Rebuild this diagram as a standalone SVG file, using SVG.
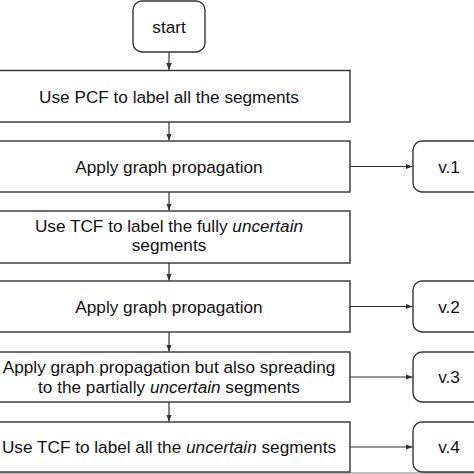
<svg xmlns="http://www.w3.org/2000/svg" width="474" height="474" viewBox="0 0 474 474">
<defs>
<marker id="ah" viewBox="0 0 10 10" refX="10" refY="5" markerWidth="7" markerHeight="7" markerUnits="userSpaceOnUse" orient="auto">
<path d="M0,1 L10,5 L0,9 Z" fill="#333"/>
</marker>
</defs>
<style>
.box{fill:#fff;stroke:#333;stroke-width:1.4}
.t{font-family:"Liberation Sans",Arial,sans-serif;font-size:17.2px;fill:#111;text-anchor:middle}
.c{stroke:#333;stroke-width:1.2;fill:none;marker-end:url(#ah)}
</style>
<rect x="0" y="0" width="474" height="474" fill="#fff"/>
<rect x="0" y="472" width="474" height="2" fill="#bdbdbd"/>
<g id="start">
<rect class="box" x="133" y="1" width="72" height="51" rx="9"/>
<text class="t" x="169" y="33">start</text>
</g>
<g id="n1">
<rect class="box" x="-12" y="70.5" width="362" height="51.5"/>
<text class="t" x="169" y="102.5">Use PCF to label all the segments</text>
</g>
<g id="n2">
<rect class="box" x="-12" y="141" width="362" height="51"/>
<text class="t" x="169" y="173">Apply graph propagation</text>
</g>
<g id="n3">
<rect class="box" x="-12" y="211" width="362" height="52"/>
<text class="t" x="169" y="231.5">Use TCF to label the fully <tspan font-style="italic">uncertain</tspan></text>
<text class="t" x="169" y="251">segments</text>
</g>
<g id="n4">
<rect class="box" x="-12" y="281" width="362" height="51"/>
<text class="t" x="169" y="313">Apply graph propagation</text>
</g>
<g id="n5">
<rect class="box" x="-12" y="352" width="362" height="50"/>
<text class="t" x="169" y="373">Apply graph propagation but also spreading</text>
<text class="t" x="169" y="393">to the partially <tspan font-style="italic">uncertain</tspan> segments</text>
</g>
<g id="n6">
<rect class="box" x="-12" y="422" width="362" height="50"/>
<text class="t" x="169" y="453">Use TCF to label all the <tspan font-style="italic">uncertain</tspan> segments</text>
</g>
<g id="v1">
<rect class="box" x="413" y="141" width="72" height="51" rx="9"/>
<text class="t" x="449" y="173">v.1</text>
</g>
<g id="v2">
<rect class="box" x="413" y="281" width="72" height="51" rx="9"/>
<text class="t" x="449" y="313">v.2</text>
</g>
<g id="v3">
<rect class="box" x="413" y="352" width="72" height="50" rx="9"/>
<text class="t" x="449" y="383">v.3</text>
</g>
<g id="v4">
<rect class="box" x="413" y="422" width="72" height="50" rx="9"/>
<text class="t" x="449" y="453">v.4</text>
</g>
<g id="connectors">
<line class="c" x1="169" y1="52" x2="169" y2="70"/>
<line class="c" x1="169" y1="122" x2="169" y2="140.5"/>
<line class="c" x1="169" y1="192" x2="169" y2="210.5"/>
<line class="c" x1="169" y1="263" x2="169" y2="280.5"/>
<line class="c" x1="169" y1="332" x2="169" y2="351.5"/>
<line class="c" x1="169" y1="402" x2="169" y2="421.5"/>
<line class="c" x1="350" y1="166.5" x2="412.5" y2="166.5"/>
<line class="c" x1="350" y1="306.5" x2="412.5" y2="306.5"/>
<line class="c" x1="350" y1="377" x2="412.5" y2="377"/>
<line class="c" x1="350" y1="447" x2="412.5" y2="447"/>
</g>
</svg>
